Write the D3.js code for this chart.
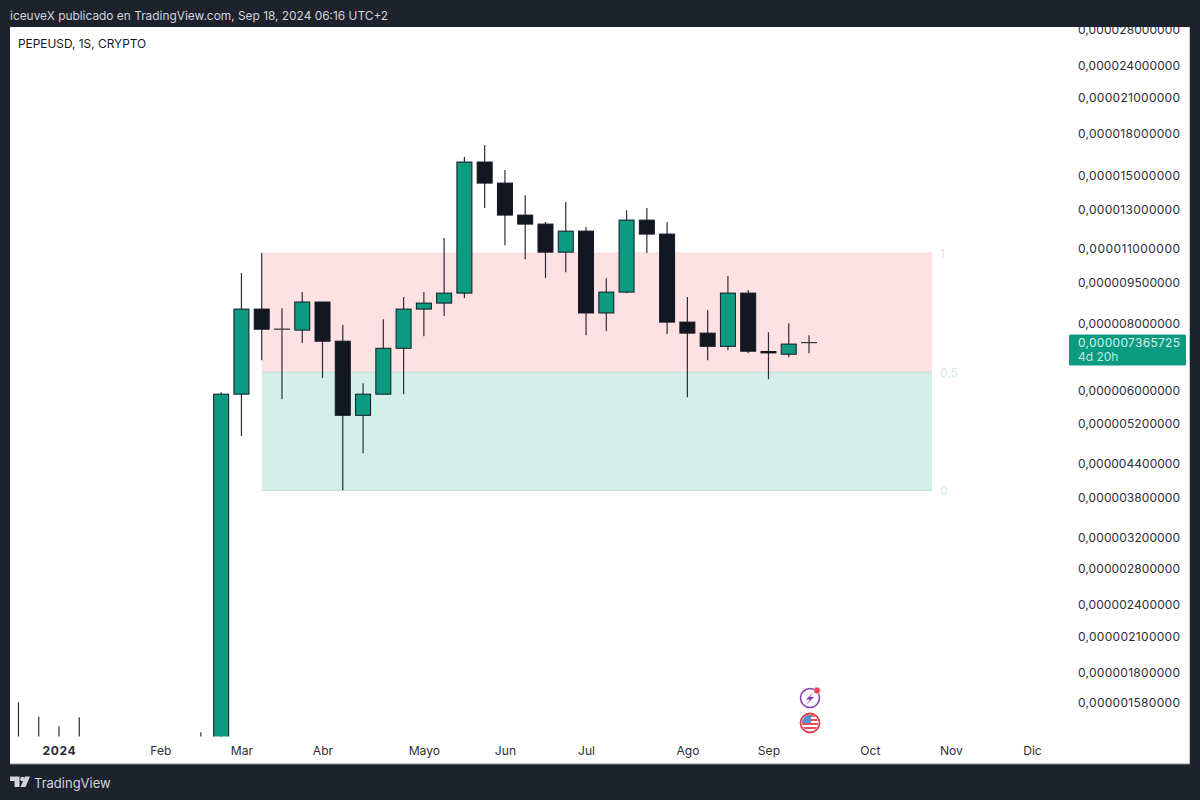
<!DOCTYPE html>
<html><head><meta charset="utf-8">
<script src="https://cdn.jsdelivr.net/npm/d3@7"></script>
<style>html,body{margin:0;padding:0;background:#1e222d;overflow:hidden}svg{display:block}text{font-family:Inter,"Noto Sans",sans-serif}</style>
</head><body><svg id="c" width="1200" height="800"></svg>
<script>
// weekly candles, prices in millionths of a USD
const weeks = ["2023-12-18","2023-12-25","2024-01-01","2024-01-08","2024-02-19","2024-02-26","2024-03-04","2024-03-11","2024-03-18","2024-03-25","2024-04-01","2024-04-08","2024-04-15","2024-04-22","2024-04-29","2024-05-06","2024-05-13","2024-05-20","2024-05-27","2024-06-03","2024-06-10","2024-06-17","2024-06-24","2024-07-01","2024-07-08","2024-07-15","2024-07-22","2024-07-29","2024-08-05","2024-08-12","2024-08-19","2024-08-26","2024-09-02","2024-09-09","2024-09-16"];
const opens  = [1.25,1.2,1.15,1.2,1.1,1.2,5.91,8.50,7.80,7.77,8.76,7.41,5.40,5.91,7.19,8.50,8.72,9.10,15.93,14.56,12.70,12.22,10.84,11.86,8.36,9.14,12.43,11.71,8.04,7.67,7.25,9.10,7.10,7.01,7.35];
const highs  = [1.585,1.49,1.43,1.487,1.394,5.96,9.91,10.80,8.53,9.14,8.76,7.94,6.19,8.14,8.95,9.14,11.51,16.27,17.13,15.39,13.83,12.33,13.43,12.07,9.70,12.97,13.09,12.33,8.95,8.46,9.79,9.22,7.70,8.00,7.60];
const lows   = [1.0,1.0,1.0,1.0,1.0,1.1,4.94,6.83,5.79,7.35,6.33,3.92,4.59,5.91,5.91,7.57,8.25,8.91,13.09,11.17,10.52,9.70,9.95,7.60,7.74,9.10,10.80,7.64,5.83,6.83,7.13,7.04,6.30,6.92,7.04];
const closes = [1.2,1.15,1.2,1.25,1.25,5.91,8.50,7.80,7.80,8.76,7.41,5.40,5.91,7.19,8.50,8.72,9.10,15.93,14.56,12.70,12.22,10.84,11.86,8.36,9.14,12.43,11.71,8.04,7.67,7.25,9.10,7.10,7.04,7.32,7.366];

const priceTicks = [28,24,21,18,15,13,11,9.5,8,6,5.2,4.4,3.8,3.2,2.8,2.4,2.1,1.8,1.58];
const priceLabels = ["0,000028000000","0,000024000000","0,000021000000","0,000018000000","0,000015000000","0,000013000000","0,000011000000","0,000009500000","0,000008000000","0,000006000000","0,000005200000","0,000004400000","0,000003800000","0,000003200000","0,000002800000","0,000002400000","0,000002100000","0,000001800000","0,000001580000"];
const monthDates = ["2024-01-01","2024-02-05","2024-03-04","2024-04-01","2024-05-06","2024-06-03","2024-07-01","2024-08-05","2024-09-02","2024-10-07","2024-11-04","2024-12-02"];
const monthLabels = ["2024","Feb","Mar","Abr","Mayo","Jun","Jul","Ago","Sep","Oct","Nov","Dic"];
const fibLevels = [10.80,6.49,3.92];
const fibLabels = ["1","0,5","0"];
const fibStart = "2024-03-11", fibEnd = "2024-10-28T12:00:00";
const lastPrice = 7.366, lastPriceLabel = "0,000007365725", countdown = "4d 20h";

const UP="#0c9a80", DOWN="#131722", INK="#131722";
const svg=d3.select("#c");
const x=d3.scaleUtc().domain([new Date("2024-01-01"),new Date("2024-09-16")]).range([59,809]);
const y=d3.scaleLog().domain([28,1.58]).range([30,703]);
const defs=svg.append("defs");
defs.append("clipPath").attr("id","plot").append("rect").attr("x",11).attr("y",27).attr("width",1048).attr("height",709.5);
defs.append("clipPath").attr("id","panel").append("rect").attr("x",10).attr("y",27).attr("width",1180).attr("height",737);
defs.append("clipPath").attr("id","flag").append("circle").attr("cx",810).attr("cy",723).attr("r",8);

svg.append("rect").attr("width",1200).attr("height",800).attr("fill","#1e222d");
svg.append("rect").attr("x",10).attr("y",27).attr("width",1180).attr("height",737.5).attr("fill","#8a8d96");
svg.append("rect").attr("x",10).attr("y",27).attr("width",1179.5).attr("height",736.5).attr("fill","#fff");

svg.append("text").attr("x",10).attr("y",20).attr("fill","#d1d4dc").attr("font-size",11.9)
  .text("iceuveX publicado en TradingView.com, Sep 18, 2024 06:16 UTC+2");
svg.append("text").attr("x",18).attr("y",48).attr("fill",INK).attr("font-size",11.9)
  .text("PEPEUSD, 1S, CRYPTO");

// fib zones
const fx0=x(new Date(fibStart)), fx1=x(new Date(fibEnd));
const fib=svg.append("g");
fib.append("rect").attr("x",fx0).attr("width",fx1-fx0).attr("y",y(fibLevels[0])).attr("height",y(fibLevels[1])-y(fibLevels[0])).attr("fill","#fee1e2");
fib.append("rect").attr("x",fx0).attr("width",fx1-fx0).attr("y",y(fibLevels[1])).attr("height",y(fibLevels[2])-y(fibLevels[1])).attr("fill","#d4eee9");
const fibLine=["#fbdcdc","#bfe2d9","#a9dccf"];
fibLevels.forEach((v,i)=>{
  fib.append("line").attr("x1",fx0).attr("x2",fx1).attr("y1",y(v)).attr("y2",y(v)).attr("stroke",fibLine[i]).attr("stroke-width",1);
  fib.append("text").attr("x",940).attr("y",y(v)+4.5).attr("font-size",12).attr("fill",i==0?"#f3e3e3":"#cfe9e3").text(fibLabels[i]);
});

// candles
const plot=svg.append("g").attr("clip-path","url(#plot)");
weeks.forEach((w,i)=>{
  const cx=x(new Date(w));
  const o=opens[i],c=closes[i];
  const top=y(Math.max(o,c)),bot=y(Math.min(o,c));
  plot.append("line").attr("x1",cx).attr("x2",cx).attr("y1",y(highs[i])).attr("y2",y(lows[i])).attr("stroke","#2a2e39").attr("stroke-width",1.2);
  if(o===c){
    plot.append("line").attr("x1",cx-8).attr("x2",cx+8).attr("y1",top).attr("y2",top).attr("stroke","#4a4448").attr("stroke-width",1.4);
  } else if(w>="2024-09-16"){
    plot.append("line").attr("x1",cx-8).attr("x2",cx+8).attr("y1",y(c)).attr("y2",y(c)).attr("stroke","#3a3438").attr("stroke-width",1.2);
  } else if(bot-top<3){
    plot.append("line").attr("x1",cx-8).attr("x2",cx+8).attr("y1",(top+bot)/2).attr("y2",(top+bot)/2).attr("stroke",INK).attr("stroke-width",2.4);
  } else {
    plot.append("rect").attr("x",cx-7.5).attr("width",15).attr("y",top).attr("height",bot-top)
      .attr("fill",c>=o?UP:DOWN).attr("stroke",INK).attr("stroke-width",1);
  }
});

// price axis
const yAxis=d3.axisRight(y).tickValues(priceTicks).tickSize(0).tickPadding(0)
  .tickFormat((d,i)=>priceLabels[i]);
const ya=svg.append("g").attr("clip-path","url(#panel)").append("g").attr("transform","translate(1180,0)").call(yAxis);
ya.select(".domain").remove();
ya.selectAll("text").attr("text-anchor","end").attr("x",0).attr("font-size",12).attr("fill","#2a2e39")
  .style("font-family","Inter").style("font-variant-numeric","normal").attr("textLength",102).attr("lengthAdjust","spacing");

// time axis
const xAxis=d3.axisBottom(x).tickValues(monthDates.map(d=>new Date(d))).tickSize(0).tickPadding(0)
  .tickFormat((d,i)=>monthLabels[i]);
const xa=svg.append("g").attr("transform","translate(0,746)").call(xAxis);
xa.select(".domain").remove();
xa.selectAll("text").attr("font-size",12.1).attr("fill","#2a2e39").style("font-family","Inter")
  .attr("font-weight",(d,i)=>i==0?700:400).attr("letter-spacing",(d,i)=>i==0?0.6:0);

// last price label
const ly=y(lastPrice);
svg.append("rect").attr("x",1069).attr("y",ly-8).attr("width",117).attr("height",31).attr("rx",1.5).attr("fill",UP);
svg.append("text").attr("x",1078).attr("y",ly+4.5).attr("font-size",12).attr("fill","#d8f2ec").attr("textLength",102).text(lastPriceLabel);
svg.append("text").attr("x",1078).attr("y",ly+18.5).attr("font-size",12).attr("fill","#bfe8df").text(countdown);

// event icons
svg.append("circle").attr("cx",810).attr("cy",698).attr("r",9.5).attr("fill","#fff").attr("stroke","#8e3bb5").attr("stroke-width",1.6);
svg.append("path").attr("d","M813.5 692 L806 699.5 L810 699.5 L806.5 704.5 L814 697 L810 697 Z").attr("fill","#8e3bb5");
svg.append("circle").attr("cx",817).attr("cy",690.5).attr("r",3.4).attr("fill","#e8434f").attr("stroke","#fff").attr("stroke-width",.6);
const fl=svg.append("g").attr("clip-path","url(#flag)");
fl.append("rect").attr("x",800).attr("y",713).attr("width",20).attr("height",20).attr("fill","#fff");
[716,720,724,728,732].forEach(s=>fl.append("rect").attr("x",800).attr("y",s-1).attr("width",20).attr("height",2).attr("fill","#e0525a"));
fl.append("rect").attr("x",800).attr("y",714).attr("width",11).attr("height",9).attr("fill","#5a8fd0");
svg.append("circle").attr("cx",810).attr("cy",723).attr("r",9.5).attr("fill","none").attr("stroke","#d9444c").attr("stroke-width",1.8);

// brand
svg.append("path").attr("d","M10 776.5 H19.5 V787 H14.5 V781 H10 Z M25 776.5 H30 L25.5 787 H20.5 Z").attr("fill","#d1d4dc");
svg.append("circle").attr("cx",22.3).attr("cy",779).attr("r",2.2).attr("fill","#d1d4dc");
svg.append("text").attr("x",34).attr("y",787.5).attr("font-size",13).attr("fill","#d1d4dc").text("TradingView");
</script></body></html>
